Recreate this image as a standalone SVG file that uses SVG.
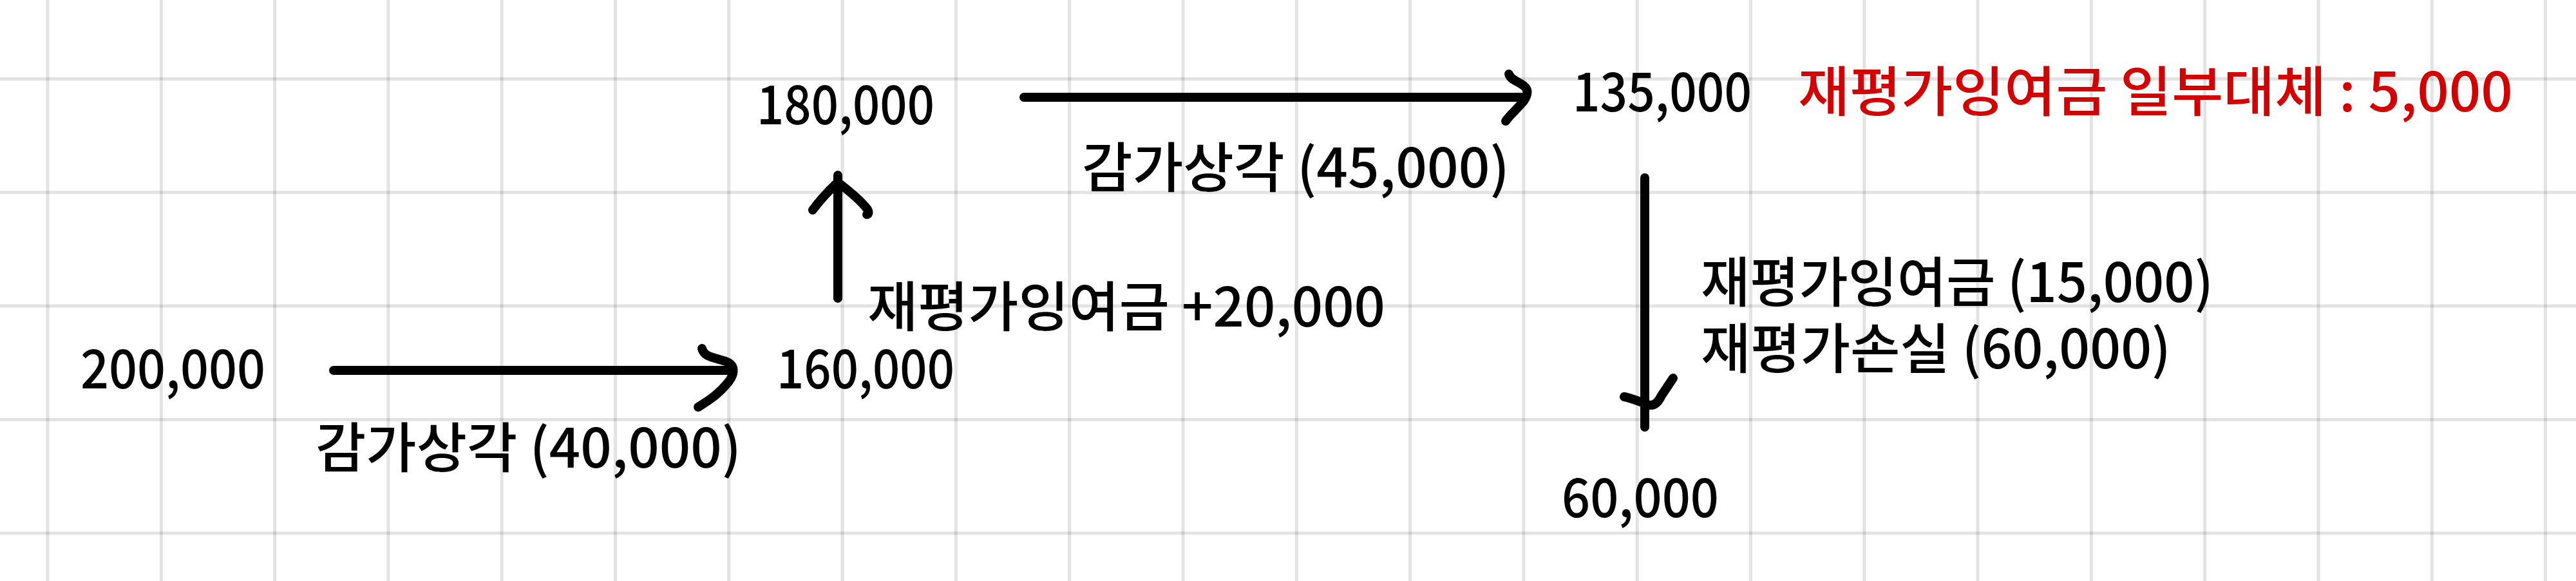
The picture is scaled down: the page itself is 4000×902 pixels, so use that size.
<svg xmlns="http://www.w3.org/2000/svg" width="4000" height="902" viewBox="0 0 4000 902">
  <style>
    .grid line { stroke: #000; stroke-opacity: 0.11; stroke-width: 5; }
    .t { font-family: "Noto Sans CJK KR", "Noto Sans", sans-serif; font-size: 84px; font-weight: 500; fill: #000; }
    .red { fill: #d40000; }
    .conn path { fill: none; stroke: #000; stroke-width: 14; stroke-linecap: round; stroke-linejoin: round; }
  </style>
  <rect width="4000" height="902" fill="#fff"/>
  <g class="grid" id="grid">
    <line x1="74" y1="0" x2="74" y2="902"/>
    <line x1="250.3" y1="0" x2="250.3" y2="902"/>
    <line x1="426.6" y1="0" x2="426.6" y2="902"/>
    <line x1="602.9" y1="0" x2="602.9" y2="902"/>
    <line x1="779.2" y1="0" x2="779.2" y2="902"/>
    <line x1="955.5" y1="0" x2="955.5" y2="902"/>
    <line x1="1131.8" y1="0" x2="1131.8" y2="902"/>
    <line x1="1308.1" y1="0" x2="1308.1" y2="902"/>
    <line x1="1484.4" y1="0" x2="1484.4" y2="902"/>
    <line x1="1660.7" y1="0" x2="1660.7" y2="902"/>
    <line x1="1837" y1="0" x2="1837" y2="902"/>
    <line x1="2013.3" y1="0" x2="2013.3" y2="902"/>
    <line x1="2189.6" y1="0" x2="2189.6" y2="902"/>
    <line x1="2365.9" y1="0" x2="2365.9" y2="902"/>
    <line x1="2542.2" y1="0" x2="2542.2" y2="902"/>
    <line x1="2718.5" y1="0" x2="2718.5" y2="902"/>
    <line x1="2894.8" y1="0" x2="2894.8" y2="902"/>
    <line x1="3071.1" y1="0" x2="3071.1" y2="902"/>
    <line x1="3247.4" y1="0" x2="3247.4" y2="902"/>
    <line x1="3423.7" y1="0" x2="3423.7" y2="902"/>
    <line x1="3600" y1="0" x2="3600" y2="902"/>
    <line x1="3776.3" y1="0" x2="3776.3" y2="902"/>
    <line x1="3952.6" y1="0" x2="3952.6" y2="902"/>
    <line x1="0" y1="122.5" x2="4000" y2="122.5"/>
    <line x1="0" y1="298.8" x2="4000" y2="298.8"/>
    <line x1="0" y1="475.1" x2="4000" y2="475.1"/>
    <line x1="0" y1="651.4" x2="4000" y2="651.4"/>
    <line x1="0" y1="827.7" x2="4000" y2="827.7"/>
  </g>
  <g class="conn" id="connectors">
    <g id="arrow-200-160">
      <path d="M518,575 L1134,575"/>
      <path d="M1090,541 C1093,553 1104,554 1127,561 C1141,566 1142,578 1132,592 C1115,613 1100,622 1084,632"/>
    </g>
    <g id="arrow-160-180">
      <path d="M1301,463 L1301,272"/>
      <path d="M1262,326 C1275,308 1288,295 1301,283 C1318,296 1338,313 1347,325 C1350,330 1348,333 1346,333"/>
    </g>
    <g id="arrow-180-135">
      <path d="M1590,151 L2366,151"/>
      <path d="M2343,115 C2346,124 2355,125 2366,133 C2375,140 2372,148 2366,157 C2355,170 2345,178 2338,188"/>
    </g>
    <g id="arrow-135-60">
      <path d="M2554,276 L2554,663"/>
      <path d="M2522,616 C2535,618 2550,626 2562,629 C2570,630 2575,624 2580,614 L2598,587"/>
    </g>
  </g>
  <g id="node-200000"><text class="t" x="125" y="603" textLength="287" lengthAdjust="spacingAndGlyphs">200,000</text></g>
  <g id="node-160000"><text class="t" x="1206" y="603" textLength="276" lengthAdjust="spacingAndGlyphs">160,000</text></g>
  <g id="node-180000"><text class="t" x="1175" y="193" textLength="276" lengthAdjust="spacingAndGlyphs">180,000</text></g>
  <g id="node-135000"><text class="t" x="2442" y="173" textLength="278" lengthAdjust="spacingAndGlyphs">135,000</text></g>
  <g id="node-60000"><text class="t" x="2425" y="803" textLength="244" lengthAdjust="spacingAndGlyphs">60,000</text></g>
  <g id="label-dep40"><text class="t" x="490" y="726" textLength="661" lengthAdjust="spacingAndGlyphs">감가상각 (40,000)</text></g>
  <g id="label-reval20"><text class="t" x="1347" y="507" textLength="804" lengthAdjust="spacingAndGlyphs">재평가잉여금 +20,000</text></g>
  <g id="label-dep45"><text class="t" x="1680" y="291" textLength="664" lengthAdjust="spacingAndGlyphs">감가상각 (45,000)</text></g>
  <g id="label-transfer"><text class="t red" x="2792" y="173" textLength="1110" lengthAdjust="spacingAndGlyphs">재평가잉여금 일부대체 : 5,000</text></g>
  <g id="label-reval15"><text class="t" x="2641" y="469" textLength="796" lengthAdjust="spacingAndGlyphs">재평가잉여금 (15,000)</text></g>
  <g id="label-loss60"><text class="t" x="2641" y="572" textLength="730" lengthAdjust="spacingAndGlyphs">재평가손실 (60,000)</text></g>
</svg>
